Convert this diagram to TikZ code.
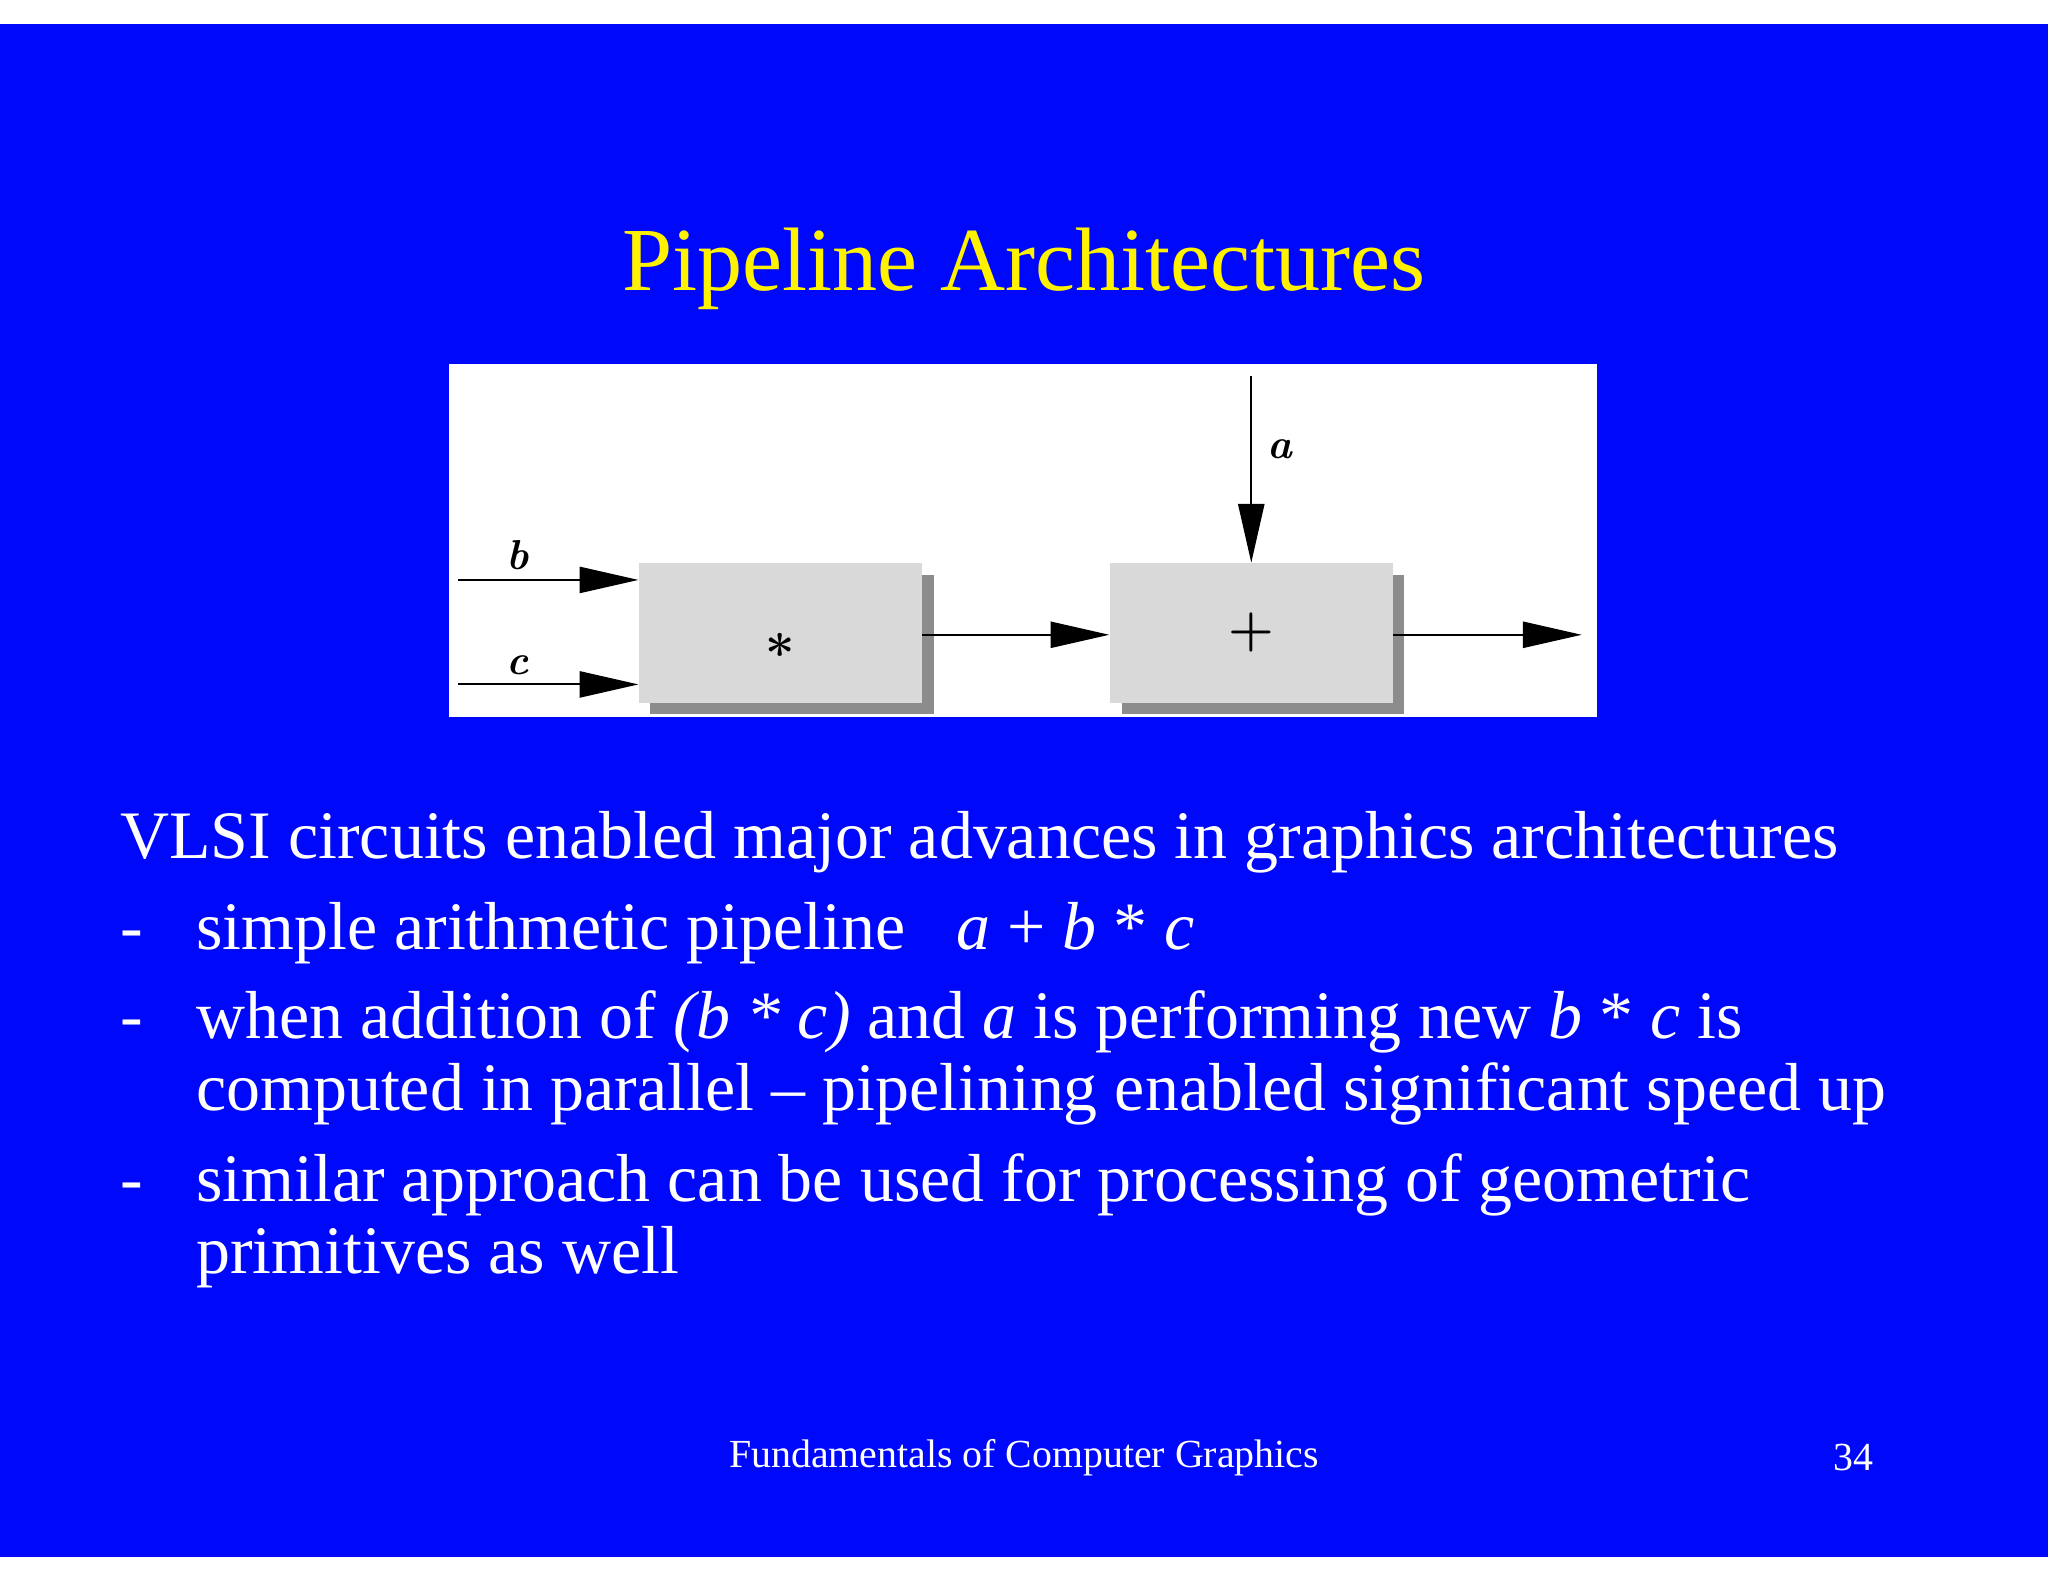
\documentclass[tikz,border=0pt]{standalone}
\usepackage{fontspec}
\setmainfont{Liberation Serif}
\newfontfamily\lmr{Latin Modern Roman}
\usetikzlibrary{arrows.meta}
\definecolor{slideblue}{RGB}{0,8,250}
\definecolor{boxgray}{RGB}{217,217,217}
\definecolor{shadowgray}{RGB}{140,140,140}
\begin{document}
\begin{tikzpicture}[x=1pt,y=-1pt,
  op/.style={draw=none,fill=boxgray,minimum width=217pt,minimum height=107pt,inner sep=0pt,font=\lmr\fontsize{40}{40}\selectfont\bfseries},
  conn/.style={line width=1.6pt,-{Triangle[length=45pt,width=20pt]}},
  lab/.style={font=\lmr\fontsize{32}{32}\selectfont\bfseries\itshape},
  body/.style={anchor=base west,text=white,font=\fontsize{52}{52}\selectfont,inner sep=0pt}]
\useasboundingbox (0,0) rectangle (1568,1211);
\fill[white] (0,0) rectangle (1568,1211);
\fill[slideblue] (0,18) rectangle (1568,1192);
\node[text=yellow,font=\fontsize{69}{69}\selectfont] (title) at (784,206) {Pipeline Architectures};
\fill[white] (344,279) rectangle (1223,549);
\fill[shadowgray] (498,440) rectangle (715,547);
\fill[shadowgray] (859,440) rectangle (1075,547);
\node[op] (mul) at (597.5,484.5) {\smash{\raisebox{-30pt}{*}}};
\node[op] (add) at (958,484.5) {\raisebox{2pt}{+}};
\coordinate (bin) at (351,444);
\coordinate (cin) at (351,524);
\coordinate (ain) at (958,288);
\coordinate (out) at (1211,486);
\draw[conn] (bin) -- (bin -| mul.west);
\draw[conn] (cin) -- (cin -| mul.west);
\draw[conn] (mul.east |- out) -- (add.west |- out);
\draw[conn] (add.east |- out) -- (out);
\draw[conn] (ain) -- (add.north);
\node[lab] (lb) at (396,425) {b};
\node[lab] (lc) at (396,509) {c};
\node[lab] (la) at (980,344) {a};
\node[body] (l1) at (92,657) {VLSI circuits enabled major advances in graphics architectures};
\node[body] (d1) at (92,727) {-};
\node[body] (l2) at (150,727) {simple arithmetic pipeline \ \ \textit{a} + \textit{b} * \textit{c}};
\node[body] (d2) at (92,795) {-};
\node[body] (l3) at (150,795) {when addition of \textit{(b * c)} and \textit{a} is performing new \textit{b} * \textit{c} is};
\node[body] (l4) at (150,850) {computed in parallel – pipelining enabled significant speed up};
\node[body] (d3) at (92,920) {-};
\node[body] (l5) at (150,920) {similar approach can be used for processing of geometric};
\node[body] (l6) at (150,975) {primitives as well};
\node[text=white,font=\fontsize{30.5}{30}\selectfont] (foot) at (784,1116) {Fundamentals of Computer Graphics};
\node[text=white,font=\fontsize{30.5}{30}\selectfont] (num) at (1419,1116) {34};
\end{tikzpicture}
\end{document}
